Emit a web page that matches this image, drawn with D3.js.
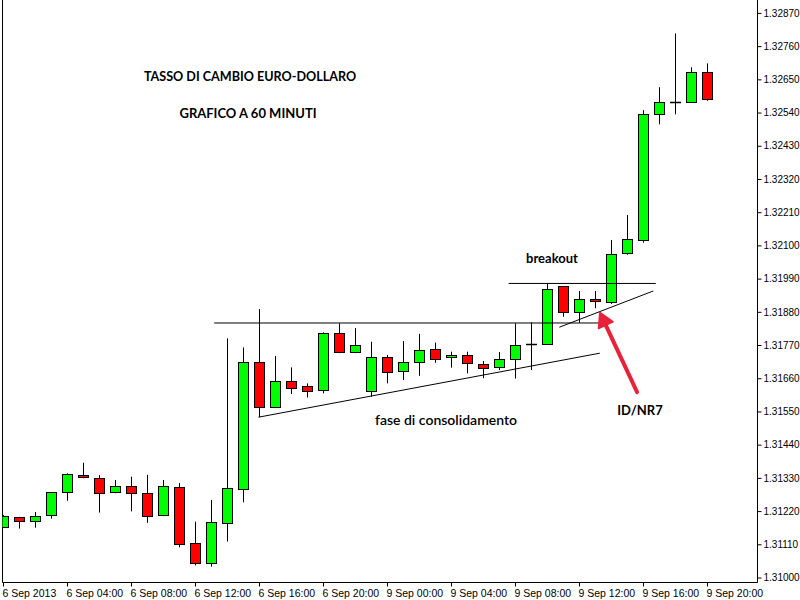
<!DOCTYPE html>
<html><head><meta charset="utf-8">
<script src="https://cdn.jsdelivr.net/npm/d3@7/dist/d3.min.js"></script>
<style>
html,body{margin:0;padding:0;background:#fff;}
svg{display:block;}
</style></head>
<body>
<svg id="chart" width="800" height="600"></svg>
<script>
// ---- DATA (EUR/USD, 60 minute candles) ----
const times = ["6 Sep 00:00","6 Sep 01:00","6 Sep 02:00","6 Sep 03:00","6 Sep 04:00","6 Sep 05:00","6 Sep 06:00","6 Sep 07:00","6 Sep 08:00","6 Sep 09:00","6 Sep 10:00","6 Sep 11:00","6 Sep 12:00","6 Sep 13:00","6 Sep 14:00","6 Sep 15:00","6 Sep 16:00","6 Sep 17:00","6 Sep 18:00","6 Sep 19:00","6 Sep 20:00","6 Sep 21:00","6 Sep 22:00","6 Sep 23:00","9 Sep 00:00","9 Sep 01:00","9 Sep 02:00","9 Sep 03:00","9 Sep 04:00","9 Sep 05:00","9 Sep 06:00","9 Sep 07:00","9 Sep 08:00","9 Sep 09:00","9 Sep 10:00","9 Sep 11:00","9 Sep 12:00","9 Sep 13:00","9 Sep 14:00","9 Sep 15:00","9 Sep 16:00","9 Sep 17:00","9 Sep 18:00","9 Sep 19:00","9 Sep 20:00"];
const open  = [1.31168,1.31199,1.31186,1.31206,1.31282,1.31339,1.31329,1.31281,1.31302,1.31279,1.31205,1.31299,1.31113,1.31047,1.31180,1.31295,1.31715,1.31566,1.31652,1.31634,1.31620,1.31809,1.31745,1.31617,1.31729,1.31683,1.31713,1.31756,1.31729,1.31737,1.31706,1.31696,1.31723,1.31772,1.31772,1.31964,1.31878,1.31921,1.31910,1.32074,1.32118,1.32534,1.32574,1.32576,1.32675];
const high  = [1.31207,1.31201,1.31217,1.31282,1.31345,1.31380,1.31339,1.31323,1.31334,1.31340,1.31323,1.31313,1.31185,1.31257,1.31792,1.31762,1.31889,1.31734,1.31696,1.31643,1.31812,1.31842,1.31826,1.31781,1.31737,1.31783,1.31807,1.31778,1.31748,1.31748,1.31717,1.31747,1.31842,1.31845,1.31974,1.31964,1.31949,1.31949,1.32118,1.32201,1.32548,1.32624,1.32802,1.32690,1.32703];
const low   = [1.31164,1.31162,1.31165,1.31195,1.31254,1.31329,1.31215,1.31279,1.31219,1.31181,1.31203,1.31100,1.31040,1.31036,1.31119,1.31249,1.31531,1.31566,1.31608,1.31596,1.31610,1.31743,1.31743,1.31599,1.31643,1.31654,1.31668,1.31711,1.31695,1.31676,1.31660,1.31687,1.31659,1.31687,1.31770,1.31864,1.31844,1.31892,1.31906,1.32069,1.32109,1.32501,1.32534,1.32574,1.32579];
const close = [1.31204,1.31186,1.31203,1.31282,1.31342,1.31332,1.31279,1.31302,1.31279,1.31203,1.31302,1.31110,1.31046,1.31183,1.31295,1.31715,1.31566,1.31652,1.31630,1.31617,1.31809,1.31746,1.31769,1.31729,1.31680,1.31713,1.31752,1.31723,1.31737,1.31709,1.31692,1.31723,1.31769,1.31772,1.31955,1.31878,1.31921,1.31913,1.32070,1.32121,1.32534,1.32574,1.32574,1.32675,1.32584];

const priceTicks = [1.31000,1.31110,1.31220,1.31330,1.31440,1.31550,1.31660,1.31770,1.31880,1.31990,1.32100,1.32210,1.32320,1.32430,1.32540,1.32650,1.32760,1.32870];
const timeTickIdx = [0,4,8,12,16,20,24,28,32,36,40,44];
const timeTickLabels = ["6 Sep 2013","6 Sep 04:00","6 Sep 08:00","6 Sep 12:00","6 Sep 16:00","6 Sep 20:00","9 Sep 00:00","9 Sep 04:00","9 Sep 08:00","9 Sep 12:00","9 Sep 16:00","9 Sep 20:00"];

// annotation lines in (bar index, price)
const resistance = [[13.2,1.31843],[37.3,1.31843]];
const breakoutLine = [[31.6,1.31974],[40.8,1.31974]];
const supportTrend = [[15.97,1.31531],[37.3,1.31743]];
const nr7Trend = [[34.77,1.31829],[40.64,1.31949]];
const arrowPts = [[39.63,1.31614],[37.3,1.31878]];

// ---- LAYOUT ----
const svg = d3.select("#chart");
const L = 2.5, R = 757.5, T = 0, B = 582.5;
const x = d3.scaleLinear().domain([0,44]).range([3,707]);
const y = d3.scaleLinear().domain([1.31,1.3287]).range([577.5,577.5-17*33.21]);
const bodyW = 10;

svg.append("defs").append("clipPath").attr("id","plot")
  .append("rect").attr("x",L).attr("y",T).attr("width",R-L).attr("height",B-T);

// frame
svg.append("path").attr("d",`M${L},${T}V${B}H${R}V${T}`)
  .attr("fill","none").attr("stroke","#000").attr("stroke-width",1);

// right axis
const ya = svg.append("g").attr("transform",`translate(${R},0)`)
  .call(d3.axisRight(y).tickValues(priceTicks).tickFormat(d3.format(".5f")).tickSize(4).tickPadding(2));
ya.select(".domain").remove();
ya.selectAll("text").attr("font-family","'Liberation Sans',Arial,sans-serif").attr("font-size","10px").attr("fill","#000");

// bottom axis
const xa = svg.append("g").attr("transform",`translate(0,${B})`)
  .call(d3.axisBottom(x).tickValues(timeTickIdx).tickFormat((d,i)=>timeTickLabels[i]).tickSize(4).tickPadding(3));
xa.select(".domain").remove();
xa.selectAll("text").attr("font-family","'Liberation Sans',Arial,sans-serif").attr("font-size","10.5px")
  .attr("fill","#000").attr("text-anchor","start").attr("dx","-1");

// candles
const data = times.map((t,i)=>({i,t,o:open[i],h:high[i],l:low[i],c:close[i]}));
const g = svg.append("g").attr("clip-path","url(#plot)");
const cg = g.selectAll("g.c").data(data).join("g").attr("class","c");
cg.append("line")
  .attr("x1",d=>Math.round(x(d.i))+0.5).attr("x2",d=>Math.round(x(d.i))+0.5)
  .attr("y1",d=>y(d.h)).attr("y2",d=>y(d.l))
  .attr("stroke","#000").attr("stroke-width",1);
cg.filter(d=>Math.abs(y(d.o)-y(d.c))>=1.5).append("rect")
  .attr("x",d=>Math.round(x(d.i))-bodyW/2+0.5)
  .attr("y",d=>Math.round(Math.min(y(d.o),y(d.c)))+0.5)
  .attr("width",bodyW)
  .attr("height",d=>Math.max(1,Math.round(Math.abs(y(d.o)-y(d.c)))))
  .attr("fill",d=>d.c>=d.o?"#00ff00":"#ff0000")
  .attr("stroke","#000").attr("stroke-width",1);
cg.filter(d=>Math.abs(y(d.o)-y(d.c))<1.5).append("line")
  .attr("x1",d=>Math.round(x(d.i))-bodyW/2).attr("x2",d=>Math.round(x(d.i))+bodyW/2+1)
  .attr("y1",d=>Math.round(y(d.c))+0.5).attr("y2",d=>Math.round(y(d.c))+0.5)
  .attr("stroke","#000").attr("stroke-width",1.5);

// annotation lines
const line = d3.line().x(d=>x(d[0])).y(d=>y(d[1]));
[resistance,breakoutLine,supportTrend,nr7Trend].forEach(p=>{
  svg.append("path").attr("d",line(p)).attr("fill","none").attr("stroke","#000").attr("stroke-width",1);
});

// red arrow
const red = "#e8223a";
const [ax0,ay0] = [x(arrowPts[0][0]),y(arrowPts[0][1])];
const [ax1,ay1] = [x(arrowPts[1][0]),y(arrowPts[1][1])];
const dx = ax1-ax0, dy = ay1-ay0, len = Math.hypot(dx,dy);
const ux = dx/len, uy = dy/len, px = -uy, py = ux;
const headL = 14, headW = 8;
const bx = ax1-ux*headL, by = ay1-uy*headL;
svg.append("line").attr("x1",ax0).attr("y1",ay0).attr("x2",bx).attr("y2",by)
  .attr("stroke",red).attr("stroke-width",4).attr("stroke-linecap","round");
svg.append("path")
  .attr("d",`M${ax1},${ay1}L${bx+px*headW},${by+py*headW}L${bx-px*headW},${by-py*headW}Z`)
  .attr("fill",red).attr("stroke",red).attr("stroke-width",1.5).attr("stroke-linejoin","round");

// texts
const font = "Lato,'Open Sans',Calibri,sans-serif";
function txt(s,cx,by,weight,size){
  svg.append("text").attr("x",cx).attr("y",by).attr("text-anchor","middle")
    .attr("font-family",font).attr("font-weight",weight).attr("font-size",size).attr("fill","#000").text(s);
}
txt("TASSO DI CAMBIO EURO-DOLLARO",250,81,"bold","12.6px");
txt("GRAFICO A 60 MINUTI",248,118,"bold","13px");
txt("breakout",552,263,"bold","13px");
txt("fase di consolidamento",446,425,"600","14px");
txt("ID/NR7",640,415,"bold","13px");
</script>
</body></html>
